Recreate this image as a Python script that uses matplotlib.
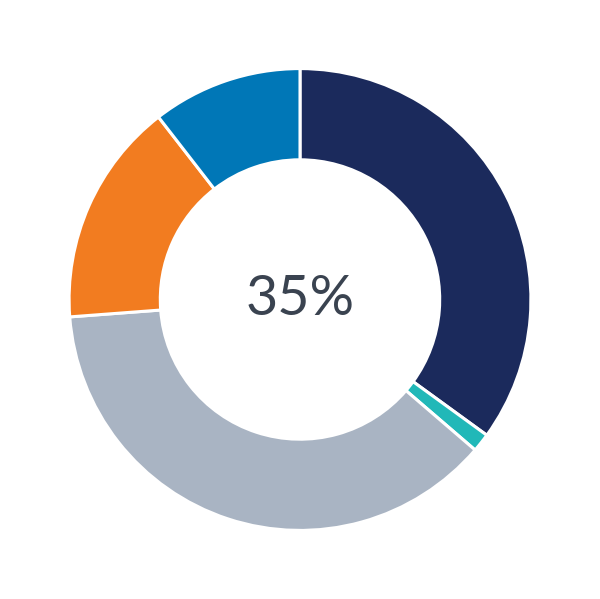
import matplotlib
matplotlib.use('Agg')
import matplotlib.pyplot as plt

labels = ['Navy', 'Teal', 'Gray', 'Orange', 'Blue']
values = [35.0, 1.3, 37.5, 15.7, 10.5]
colors = ['#1b2a5c', '#21b8b8', '#a9b4c3', '#f27c20', '#0077b7']
center_text = '35%'

fig = plt.figure(figsize=(6, 5.99), dpi=100)
ax = fig.add_axes([0, 0, 1, 1])
ax.pie(values, colors=colors, startangle=90, counterclock=False,
       radius=1.0, wedgeprops=dict(width=0.395, edgecolor='white', linewidth=2.2))
ax.text(0, 0, center_text, ha='center', va='center', fontsize=40,
        family=['Lato', 'DejaVu Sans'], fontweight='normal', color='#3a4350')
ax.set_xlim(-1.299, 1.299)
ax.set_ylim(-1.297, 1.297)
ax.set_aspect('equal')
ax.axis('off')
fig.savefig('out.png', dpi=100, facecolor='white')
